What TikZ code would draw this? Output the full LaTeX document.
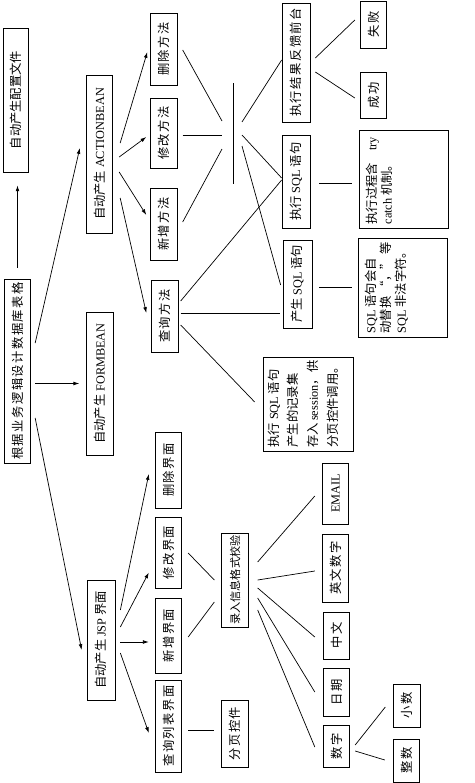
\documentclass[tikz,border=0pt]{standalone}
\usepackage{fontspec}
\setmainfont{Liberation Serif}
\newfontfamily\cjk{Noto Sans CJK SC}
\newfontfamily\cjkwide[LetterSpace=12]{Noto Sans CJK SC}
\newcommand\la[1]{{\rmfamily #1}}
\newcommand\boxfont{\fontsize{10.5pt}{12pt}\selectfont}
\usetikzlibrary{arrows.meta,calc}

\begin{document}
\begin{tikzpicture}[x=0.03cm,y=-0.03cm,line width=0.6pt,
  >={Latex[length=5pt,width=3.2pt]},
  box/.style={draw,rotate=90,font=\cjk\boxfont,inner sep=1pt,minimum height=0.8cm},
  wide/.style={font=\cjkwide\boxfont},
  note/.style={draw,rotate=90,font=\cjk\boxfont,inner sep=3pt}]
 \useasboundingbox (0,0) rectangle (474,783);
 % first column
 \node[box,minimum width=4.32cm,minimum height=0.75cm] (cfg) at (15.5,100) {自动产生配置文件};
 \node[box,wide,minimum width=5.52cm] (main) at (17.5,371) {根据业务逻辑设计数据库表格};
 % generated parts
 \node[box,minimum width=4.74cm] (action) at (99.5,154) {自动产生 \la{ACTIONBEAN}};
 \node[box,minimum width=4.29cm] (formbean) at (100,383.5) {自动产生 \la{FORMBEAN}};
 \node[box,minimum width=3.6cm,minimum height=0.84cm] (jsp) at (101,640) {自动产生 \la{JSP} 界面};
 % methods
 \node[box,wide,minimum width=2.16cm] (del) at (164,49) {删除方法};
 \node[box,wide,minimum width=2.1cm] (mod) at (164,133) {修改方法};
 \node[box,wide,minimum width=2.16cm] (add) at (164,224) {新增方法};
 \node[box,wide,minimum width=2.16cm] (qry) at (165,316) {查询方法};
 \coordinate (hub) at (233,134);
 \coordinate (hubtop) at (233,83);
 \coordinate (hubbot) at (233,184);
 \node[box,wide,minimum width=3.57cm,minimum height=0.84cm] (feedback) at (296,62.5) {执行结果反馈前台};
 \node[box,minimum width=2.79cm,minimum height=0.84cm] (exec) at (296,181.5) {执行 \la{SQL} 语句};
 \node[box,minimum width=2.64cm,minimum height=0.87cm] (gen) at (297.5,284) {产生 \la{SQL} 语句};
 \node[note] (rs) at (308,404) {\parbox[c][70.8pt][t]{74pt}{\setlength\baselineskip{17pt}%
   \vspace*{1pt}执行 \la{SQL} 语句\\产生的记录集\\存入 \la{session}，供\\分页控件调用。}};
 \node[box,wide,minimum width=1.41cm] (fail) at (373.5,24.5) {失败};
 \node[box,wide,minimum width=1.38cm] (ok) at (373.5,95) {成功};
 \node[note] (trynote) at (403.5,179) {\parbox[c][69.9pt][t]{77.6pt}{\setlength\baselineskip{13pt}%
   \vspace*{3pt}执行过程含\quad\la{try}\\\la{catch} 机制。}};
 \node[note] (sqlnote) at (402.5,287.5) {\parbox[c][69.9pt][t]{78.5pt}{\setlength\baselineskip{13pt}%
   \vspace*{3pt}\la{SQL} 语句会自\\动替换 “，” 等\\\la{SQL} 非法字符。}};
 % pages
 \node[box,wide,minimum width=2.28cm] (udel) at (168.5,470) {删除界面};
 \node[box,wide,minimum width=2.13cm] (umod) at (168.5,552.5) {修改界面};
 \node[box,wide,minimum width=2.25cm] (uadd) at (168.5,635.5) {新增界面};
 \node[box,wide,minimum width=2.76cm] (ulist) at (168.5,726) {查询列表界面};
 \node[box,font=\cjk\fontsize{9.5pt}{11pt}\selectfont,minimum width=2.82cm] (check) at (235,580) {录入信息格式校验};
 \node[box,wide,minimum width=2.01cm] (page) at (235,733.5) {分页控件};
 \node[box,minimum width=1.83cm] (email) at (335.5,493.5) {\la{EMAIL}};
 \node[box,wide,minimum width=2.04cm] (en) at (335.5,568) {英文数字};
 \node[box,wide,minimum width=1.41cm] (zh) at (336.5,635.5) {中文};
 \node[box,wide,minimum width=1.44cm] (date) at (336.5,692) {日期};
 \node[box,wide,minimum width=1.26cm] (num) at (336.5,746) {数字};
 \node[box,wide,minimum width=1.29cm] (dec) at (407,705.5) {小数};
 \node[box,wide,minimum width=1.29cm] (int) at (406.5,760.5) {整数};
 % arrows
 \path[->]
 ($(main.east)+(0,-11)$) edge ($(main.east |- cfg.west)+(0,13)$)
 ($(main.south |- formbean.north)+(4,0)$) edge ($(formbean.north)+(-7,0)$)
 ($(main.south)+(4,-28)$) edge ($(action.north)+(-6,-6)$)
 ($(main.south)+(4,47)$) edge ($(jsp.north)+(-5,10)$)
 ($(action.south)+(7,-11)$) edge ($(del.north)+(-3,3)$)
 ($(action.south)+(6,3)$) edge ($(mod.north)+(-4,4)$)
 ($(action.south)+(6,18)$) edge ($(add.north)+(-4,-9)$)
 ($(action.south)+(7,44)$) edge ($(qry.north)+(-5,-3)$)
 ($(jsp.south)+(5,-30)$) edge ($(udel.north)+(-6,4)$)
 ($(jsp.south)+(5,-13)$) edge ($(umod.north)+(-6,20)$)
 ($(jsp.south)+(5,2)$) edge ($(uadd.north)+(-6,6.5)$)
 ($(jsp.south)+(5,13)$) edge ($(ulist.north)+(-6,7)$);
 % plain lines
 \draw (hubtop) -- (hubbot);
 \path[draw]
 ($(del.south)+(5,1)$) edge ($(hub)+(-11,-13)$)
 ($(mod.south)+(5,2)$) edge ($(hub)+(-11,1)$)
 ($(add.south)+(5,-2)$) edge ($(hub)+(-11,15)$)
 ($(hub)+(9,-12)$) edge ($(feedback.north)+(0,-2.5)$)
 ($(hub)+(9,1)$) edge ($(exec.north)+(0,-3.5)$)
 ($(hub)+(9,12)$) edge ($(gen.north)+(-2,1)$)
 ($(qry.south)+(2,-15)$) edge ($(exec.north)+(0,-1.5)$)
 ($(qry.south)+(2,-3)$) edge ($(gen.north)+(-3,29)$)
 ($(qry.south)+(2,9)$) edge ($(rs.north)+(-8,-2)$)
 ($(feedback.south)+(5,-4.5)$) edge ($(fail.north)+(-5,-4.5)$)
 ($(feedback.south)+(5,9.5)$) edge ($(ok.north)+(-5,3)$)
 ($(exec.south)+(9,1.5)$) edge ($(trynote.north)+(-7,4)$)
 ($(gen.south)+(7,3)$) edge ($(sqlnote.north)+(-6,-0.5)$)
 ($(umod.south)+(6,0.5)$) edge ($(check.north)+(-7,0)$)
 ($(uadd.south)+(6,1.5)$) edge ($(check.north)+(-7,22)$)
 ($(ulist.south)+(6,4)$) edge ($(page.north)+(-7,-3.5)$)
 ($(check.south)+(9,-18)$) edge ($(email.north)+(-7,2.5)$)
 ($(check.south)+(9,0)$) edge ($(en.north)+(-7,3)$)
 ($(check.south)+(9,8)$) edge ($(zh.north)+(-8,1.5)$)
 ($(check.south)+(9,18)$) edge ($(date.north)+(-8,0)$)
 ($(check.south)+(9,30)$) edge ($(num.north)+(-8,1)$)
 ($(num.south)+(5,-1)$) edge ($(dec.north)+(-8,1.5)$)
 ($(num.south)+(5,5)$) edge ($(int.north)+(-8,-0.5)$);
\end{tikzpicture}
\end{document}
